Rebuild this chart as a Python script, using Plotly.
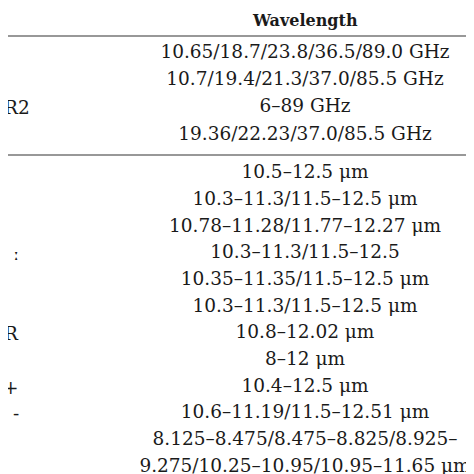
import plotly.graph_objects as go

# passive microwave rows, then thermal infrared rows
microwave = [
    "10.65/18.7/23.8/36.5/89.0 GHz",
    "10.7/19.4/21.3/37.0/85.5 GHz",
    "6–89 GHz",
    "19.36/22.23/37.0/85.5 GHz",
]
infrared = [
    "10.5–12.5 μm",
    "10.3–11.3/11.5–12.5 μm",
    "10.78–11.28/11.77–12.27 μm",
    "10.3–11.3/11.5–12.5",
    "10.35–11.35/11.5–12.5 μm",
    "10.3–11.3/11.5–12.5 μm",
    "10.8–12.02 μm",
    "8–12 μm",
    "10.4–12.5 μm",
    "10.6–11.19/11.5–12.51 μm",
    "8.125–8.475/8.475–8.825/8.925–",
    "9.275/10.25–10.95/10.95–11.65 μm",
]
# cut-off sensor names at the left edge (row index -> fragment)
left_mw = {2: "R2"}
left_ir = {3: "ː", 6: "R", 8: "+", 9: "-"}

FONT = dict(family="DejaVu Serif, Liberation Serif, serif", size=18.5, color="#1a1a1a")
CX = 297

ys_mw = [45 + 27.3 * i for i in range(len(microwave))]
ys_ir = [165.5 + 26.7 * i for i in range(len(infrared))]

fig = go.Figure()
fig.add_trace(go.Scatter(
    x=[CX] * (len(microwave) + len(infrared)),
    y=ys_mw + ys_ir,
    text=microwave + infrared,
    mode="text",
    textfont=FONT,
    hoverinfo="skip",
    cliponaxis=False,
))

fig.add_annotation(x=CX, y=12, text="<b>Wavelength</b>", showarrow=False,
                   font=dict(FONT, size=16))
for i, t in left_mw.items():
    fig.add_annotation(x=24, y=ys_mw[i], text=t, xanchor="right", showarrow=False,
                       font=FONT, xshift=0)
for i, t in left_ir.items():
    fig.add_annotation(x=13, y=ys_ir[i], text=t, xanchor="right",
                       showarrow=False, font=FONT)

for y in (28, 147):
    fig.add_shape(type="line", x0=0, x1=474, y0=y, y1=y,
                  line=dict(color="#333", width=1.2))

fig.update_layout(
    width=474, height=474,
    margin=dict(l=0, r=0, t=0, b=0),
    paper_bgcolor="white", plot_bgcolor="white",
    showlegend=False,
    xaxis=dict(range=[0, 474], visible=False, fixedrange=True),
    yaxis=dict(range=[474, 0], visible=False, fixedrange=True),
)

fig.write_html("out.html")
